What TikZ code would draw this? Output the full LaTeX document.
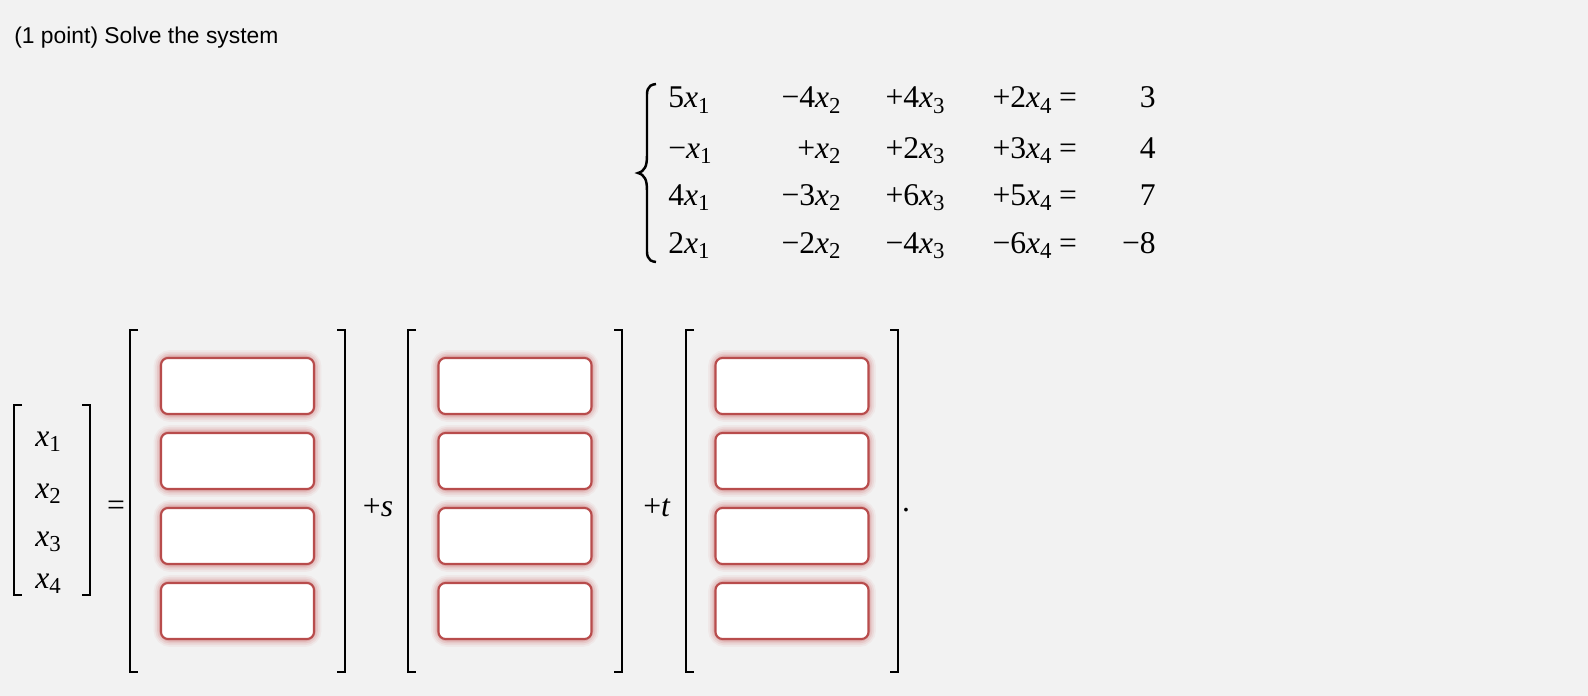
\documentclass[tikz,border=0pt]{standalone}
\usepackage{fontspec}
\setmainfont{Liberation Serif}
\newfontfamily\titlefont{Liberation Sans}
\begin{document}
\begin{tikzpicture}[x=0.02cm,y=-0.02cm,
  eq/.style={font=\fontsize{18}{21}\selectfont, inner sep=0pt},
  ans/.style={draw=red!60!black!70, line width=1.2pt, fill=white, rounded corners=4pt, minimum width=153*0.02cm, minimum height=56*0.02cm, inner sep=0pt},
  brk/.style={line width=1.3pt}]
\fill[black!5] (0,0) rectangle (1588,696);
\useasboundingbox (0,0) rectangle (1588,696);
\node[anchor=west, font=\titlefont\fontsize{13}{15}\selectfont, inner sep=0pt] (title) at (14,38) {(1 point) Solve the system};
% brace
\coordinate (bt) at (656,84);
\coordinate (bb) at (656,262);
\draw[line width=1.4pt] (bt) .. controls (646,85) and (647,92) .. (647,100) -- (647,155)
  .. controls (647,166) and (645,171) .. (638,173)
  .. controls (645,175) and (647,180) .. (647,191) -- (647,246)
  .. controls (647,254) and (646,261) .. (bb);
% equations
\newcommand{\xv}[1]{\textit{x}\raisebox{-0.35ex}{\fontsize{13}{13}\selectfont #1}}
\foreach \r/\y/\a/\b/\c/\d/\e in {1/100/5\xv{1}/\textminus 4\xv{2}/+4\xv{3}/+2\xv{4}/3,
  2/150/\textminus\xv{1}/+\xv{2}/+2\xv{3}/+3\xv{4}/4,
  3/197/4\xv{1}/\textminus 3\xv{2}/+6\xv{3}/+5\xv{4}/7,
  4/245/2\xv{1}/\textminus 2\xv{2}/\textminus 4\xv{3}/\textminus 6\xv{4}/\textminus 8}{
  \node[eq, anchor=base west] (a\r) at (668,\y+8) {\a};
  \node[eq, anchor=base east] (b\r) at (841,\y+8) {\b};
  \node[eq, anchor=base east] (c\r) at (945,\y+8) {\c};
  \node[eq, anchor=base east] (d\r) at (1052,\y+8) {\d};
  \node[eq, anchor=base] (q\r) at (1068,\y+8) {=};
  \node[eq, anchor=base east] (e\r) at (1156,\y+8) {\e};
}
% left vector
\draw[brk] (22,405)--(14,405)--(14,595)--(22,595);
\draw[brk] (82,405)--(90,405)--(90,595)--(82,595);
\foreach \i/\y in {1/438,2/490,3/538,4/580}{
  \node[eq, anchor=base] (x\i) at (48,\y+8) {\xv{\i}};
}
\node[eq] (eqs) at (116,508) {=};
\node[eq] (ps) at (378,508) {+\textit{s}};
\node[eq] (pt) at (657,508) {+\textit{t}};
\node[eq] (dot) at (906,510) {.};
% big brackets and boxes
\foreach \k/\l/\rr in {1/130/345, 2/408/622, 3/686/898}{
  \draw[brk] (\l+8,330)--(\l,330)--(\l,672)--(\l+8,672);
  \draw[brk] (\rr-8,330)--(\rr,330)--(\rr,672)--(\rr-8,672);
  \foreach \j/\y in {1/386,2/461,3/536,4/611}{
    \pgfmathsetmacro{\cx}{(\l+\rr)/2}
    \foreach \w/\o in {9/0.04,7/0.06,5/0.08,3/0.12}{
      \draw[red!70!black, opacity=\o, line width=\w pt, rounded corners=5pt] (\cx-76,\y-28) rectangle (\cx+76,\y+28);
    }
    \node[ans] (b\k\j) at (\cx,\y) {};
  }
}
\end{tikzpicture}
\end{document}
